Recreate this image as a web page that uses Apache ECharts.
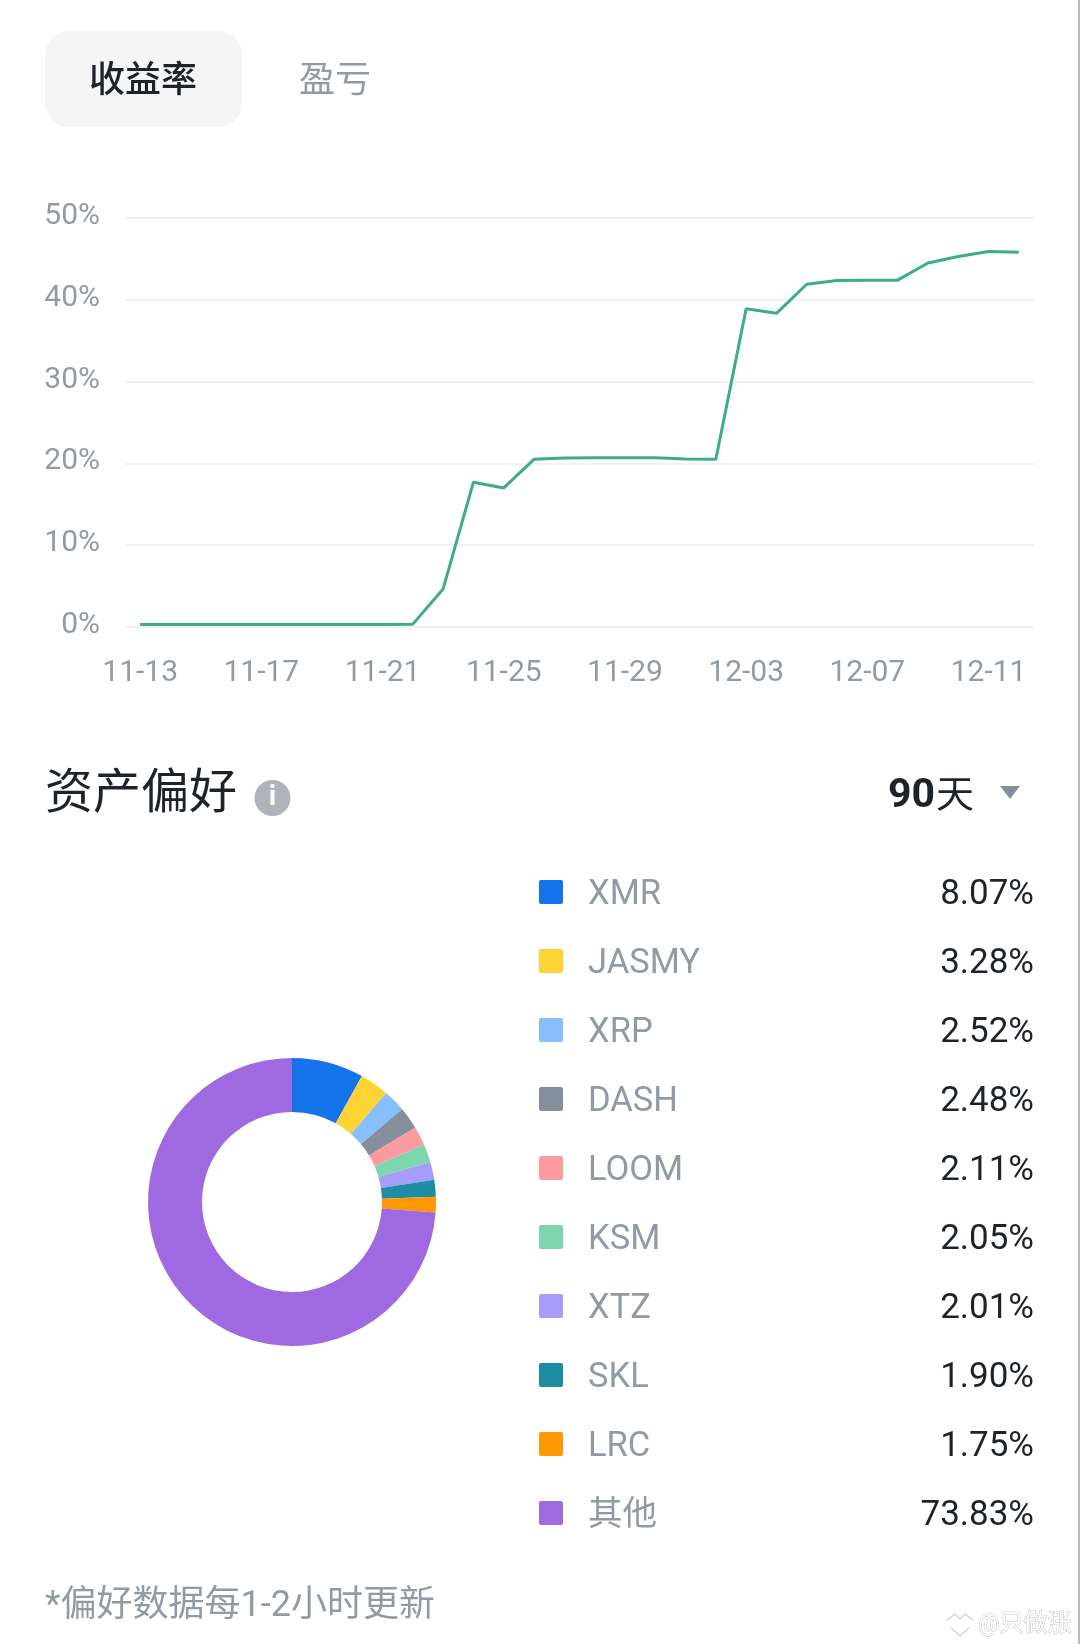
<!DOCTYPE html>
<html>
<head>
<meta charset="utf-8">
<style>
  html, body { margin: 0; padding: 0; background: #fff; }
  #chart { width: 1080px; height: 1644px; }
</style>
<script src="https://cdn.jsdelivr.net/npm/echarts@6/dist/echarts.min.js"></script>
</head>
<body>
<div id="chart"></div>
<script>
const FONT = 'Roboto, "Noto Sans CJK SC", sans-serif';

const dates = ['11-13','11-14','11-15','11-16','11-17','11-18','11-19','11-20','11-21','11-22',
  '11-23','11-24','11-25','11-26','11-27','11-28','11-29','11-30','12-01','12-02',
  '12-03','12-04','12-05','12-06','12-07','12-08','12-09','12-10','12-11','12-12'];
const returns = [0.3,0.3,0.3,0.3,0.3,0.3,0.3,0.3,0.3,0.35,
  4.65,17.7,17.0,20.5,20.65,20.7,20.7,20.7,20.55,20.5,
  38.9,38.35,41.9,42.35,42.4,42.4,44.5,45.3,45.9,45.8];

const assets = ['XMR','JASMY','XRP','DASH','LOOM','KSM','XTZ','SKL','LRC','其他'];
const shares = [8.07,3.28,2.52,2.48,2.11,2.05,2.01,1.90,1.75,73.83];
const assetColors = ['#1573ec','#fdd433','#86bffc','#848e9c','#fc9aa0','#7dd6ae','#a49dfb','#1e8ca3','#ff9800','#9f6ae1'];

const shareByName = {};
assets.forEach((name, i) => { shareByName[name] = shares[i]; });

const GRAY = '#929aa5';
const DARK = '#1e2329';

const chart = echarts.init(document.getElementById('chart'), null, { renderer: 'canvas', width: 1080, height: 1644 });

const label = (x, y, text, font, fill, align) => ({
  type: 'text',
  style: { x, y, text, font, fill, textAlign: align || 'left', textVerticalAlign: 'middle' }
});

chart.setOption({
  backgroundColor: '#fff',
  animation: false,
  grid: { left: 125, top: 218, width: 909, height: 409 },
  xAxis: {
    type: 'category',
    data: dates,
    boundaryGap: true,
    axisLine: { show: false },
    axisTick: { show: false },
    axisLabel: { interval: 3, color: GRAY, fontSize: 30, fontFamily: FONT, margin: 31 }
  },
  yAxis: {
    type: 'value',
    min: 0,
    max: 50,
    interval: 10,
    axisLine: { show: false },
    axisTick: { show: false },
    axisLabel: { formatter: '{value}%', color: GRAY, fontSize: 30, fontFamily: FONT, margin: 25, verticalAlign: 'bottom', lineHeight: 3 },
    splitLine: { lineStyle: { color: '#eceef0', width: 1.5 } }
  },
  legend: {
    orient: 'vertical',
    left: 539,
    top: 871,
    padding: 0,
    itemWidth: 24,
    itemHeight: 24,
    itemGap: 27,
    icon: 'path://M2,0H22Q24,0 24,2V22Q24,24 22,24H2Q0,24 0,22V2Q0,0 2,0Z',
    selectedMode: false,
    data: assets,
    formatter: name => `{g| }{n|${name}}{v|${shareByName[name].toFixed(2)}%}`,
    textStyle: {
      rich: {
        g: { width: 20, fontSize: 35, lineHeight: 36, padding: [7, 0, 0, 0] },
        n: { width: 302, align: 'left', color: GRAY, fontSize: 34.5, lineHeight: 36, fontFamily: FONT, padding: [7, 0, 0, 0] },
        v: { width: 144, align: 'right', color: DARK, fontSize: 35, lineHeight: 36, fontFamily: FONT, padding: [7, 0, 0, 0] }
      }
    }
  },
  series: [
    {
      type: 'line',
      data: returns,
      showSymbol: false,
      silent: true,
      lineStyle: { color: '#3bae85', width: 3 },
      itemStyle: { color: '#3bae85' }
    },
    {
      type: 'pie',
      center: [292, 1202],
      radius: [90, 144],
      startAngle: 90,
      clockwise: true,
      silent: true,
      label: { show: false },
      labelLine: { show: false },
      data: assets.map((name, i) => ({ name, value: shares[i], itemStyle: { color: assetColors[i] } }))
    }
  ],
  graphic: [
    { type: 'rect', shape: { x: 45, y: 31, width: 197, height: 96, r: 24 }, style: { fill: '#f5f5f5' } },
    label(143, 83, '收益率', '500 36px ' + FONT, DARK, 'center'),
    label(335, 83, '盈亏', '400 36px ' + FONT, GRAY, 'center'),
    label(45, 796, '资产偏好', '400 48px ' + FONT, DARK),
    { type: 'circle', shape: { cx: 272.5, cy: 798, r: 18 }, style: { fill: '#aeb4bc' } },
    label(272.5, 798, 'i', '700 28px ' + FONT, '#fff', 'center'),
    label(888, 797, '90', '700 41px ' + FONT, DARK),
    label(936, 797, '天', '400 38px ' + FONT, DARK),
    { type: 'polygon', shape: { points: [[1000, 786], [1020, 786], [1010, 799]] }, style: { fill: '#848e9c' } },
    label(45, 1607, '*偏好数据每1-2小时更新', '400 36px ' + FONT, GRAY),
    // faint watermark, bottom right
    { type: 'polyline', shape: { points: [[947, 1620], [955, 1614], [960, 1619], [965, 1614], [973, 1620]] }, style: { fill: 'none', stroke: '#d0d0d0', lineWidth: 1.2 } },
    { type: 'polyline', shape: { points: [[951, 1628], [960, 1636], [969, 1628]] }, style: { fill: 'none', stroke: '#d0d0d0', lineWidth: 1.2 } },
    { type: 'text', style: { x: 978, y: 1625, text: '@只做涨', font: '400 24px ' + FONT, fill: '#fff', stroke: '#c4c4c4', lineWidth: 1, textVerticalAlign: 'middle' } },
    // screenshot edge
    { type: 'rect', shape: { x: 1078, y: 0, width: 2, height: 1644 }, style: { fill: '#b9b9b9' } }
  ]
});
</script>
</body>
</html>
